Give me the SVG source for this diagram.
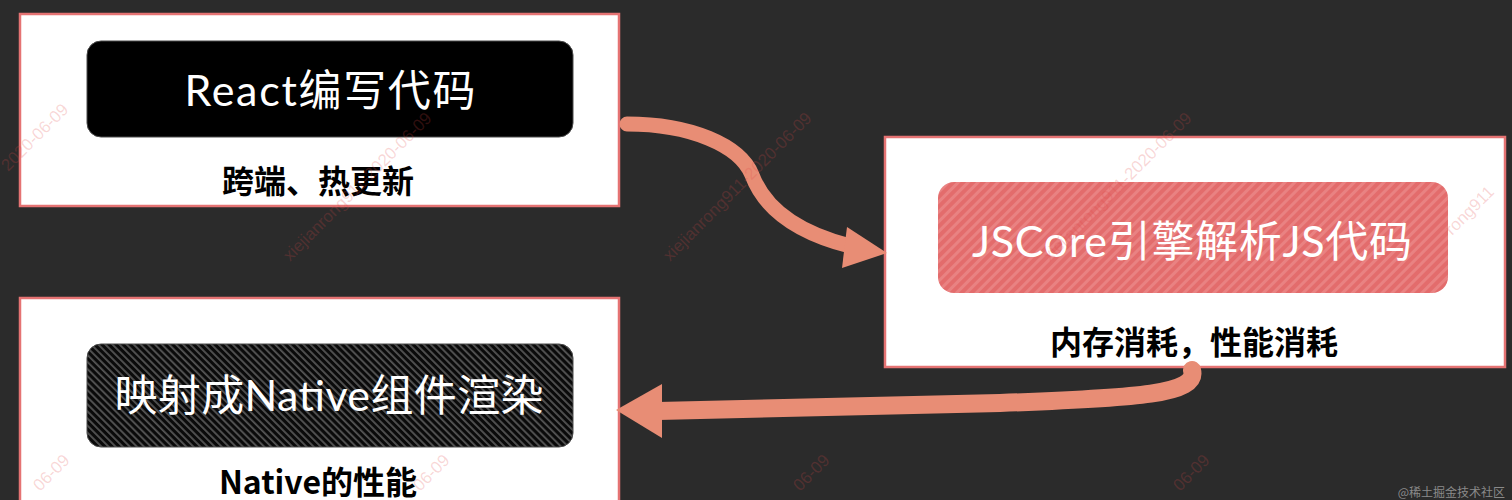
<svg xmlns="http://www.w3.org/2000/svg" width="1512" height="500" viewBox="0 0 1512 500">
<style>
.box{fill:#ffffff;stroke:#e57373;stroke-width:2.5}
.main{font-family:"Lato","Noto Sans CJK SC",sans-serif;font-size:43px;fill:#ffffff;text-anchor:middle}
.sub{font-family:"Noto Sans CJK SC","Noto Sans",sans-serif;font-size:32px;font-weight:bold;fill:#000000;text-anchor:middle}
.wm{font-family:"Liberation Sans",sans-serif;font-size:17px;fill:#e04848;fill-opacity:0.22}
.conn{fill:none;stroke:#e88d75;stroke-linecap:round}
.head{fill:#e88d75}
</style>
<defs>
<pattern id="darkStripes" width="5" height="5" patternUnits="userSpaceOnUse" patternTransform="rotate(-45)">
<rect width="5" height="5" fill="#0a0a0a"/>
<rect width="1.8" height="5" fill="#555555"/>
</pattern>
<pattern id="pinkStripes" width="7" height="7" patternUnits="userSpaceOnUse" patternTransform="rotate(45)">
<rect width="7" height="7" fill="#e36c6c"/>
<rect width="3" height="7" fill="#e98282"/>
</pattern>
</defs>
<rect width="1512" height="500" fill="#2b2b2b"/>

<g id="node-react">
<rect class="box" x="20" y="14" width="599" height="192"/>
<rect x="87" y="41" width="486" height="96" rx="14" fill="#000000" stroke="#4a4a4a" stroke-width="1"/>
<text class="main" x="330" y="106" textLength="291" lengthAdjust="spacing">React编写代码</text>
<text class="sub" x="318" y="193">跨端、热更新</text>
</g>

<g id="node-jscore">
<rect class="box" x="885" y="137" width="620" height="230"/>
<rect x="938" y="182" width="510" height="111" rx="16" fill="url(#pinkStripes)"/>
<text class="main" x="1192" y="257" textLength="440" lengthAdjust="spacing">JSCore引擎解析JS代码</text>
<text class="sub" x="1194" y="354">内存消耗，性能消耗</text>
</g>

<g id="node-native">
<rect class="box" x="20" y="298" width="599" height="215"/>
<rect x="87" y="344" width="486" height="103" rx="14" fill="url(#darkStripes)" stroke="#4a4a4a" stroke-width="1"/>
<text class="main" x="329" y="411" textLength="429" lengthAdjust="spacing">映射成Native组件渲染</text>
<text class="sub" x="318" y="494">Native的性能</text>
</g>

<g id="connectors">
<path class="conn" stroke-width="15" d="M 627 124 C 690 124, 740 145, 752 175 C 764 207, 795 232, 850 246"/>
<polygon class="head" points="847,227 887,253 842,268"/>
<path class="conn" stroke-width="18" d="M 1192 370 C 1198 394, 1140 398, 1000 403 L 658 411"/>
<polygon class="head" points="662,384 616,410 662,438"/>
</g>

<g id="watermarks">
<text class="wm" transform="translate(8,172) rotate(-45)">2020-06-09</text>
<text class="wm" transform="translate(290,262) rotate(-45)">xiejianrong911-2020-06-09</text>
<text class="wm" transform="translate(670,262) rotate(-45)">xiejianrong911-2020-06-09</text>
<text class="wm" transform="translate(1050,262) rotate(-45)">xiejianrong911-2020-06-09</text>
<text class="wm" transform="translate(1452,236) rotate(-45)">rong911</text>
<text class="wm" transform="translate(40,492) rotate(-45)">06-09</text>
<text class="wm" transform="translate(420,492) rotate(-45)">06-09</text>
<text class="wm" transform="translate(800,492) rotate(-45)">06-09</text>
<text class="wm" transform="translate(1180,492) rotate(-45)">06-09</text>
<text x="1505" y="497" font-family="Noto Sans CJK SC, sans-serif" font-size="12" fill="#8a8a8a" text-anchor="end">@稀土掘金技术社区</text>
</g>
</svg>
